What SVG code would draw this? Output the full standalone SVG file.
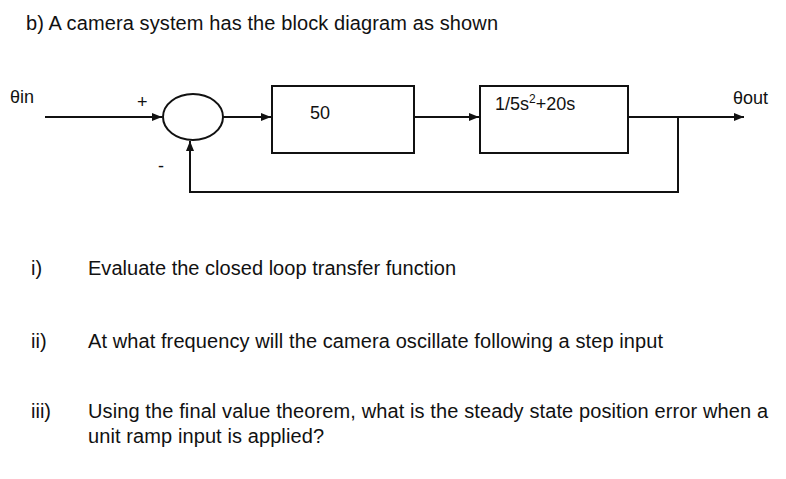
<svg xmlns="http://www.w3.org/2000/svg" width="786" height="479" viewBox="0 0 786 479">
<style>
text{font-family:"Liberation Sans",Arial,sans-serif;fill:#111}
.t{font-size:20px}
.s{font-size:18px}
.l{stroke:#111;stroke-width:2;fill:none}
</style>
<defs><marker id="a" markerWidth="10" markerHeight="8" refX="10" refY="4" orient="auto" markerUnits="userSpaceOnUse"><path d="M0,0L10,4L0,8z" fill="#111"/></marker></defs>
<rect width="786" height="479" fill="#fff"/>
<text class="t" x="26" y="30" textLength="472">b)  A camera system has the block diagram as shown</text>
<g id="sum"><ellipse class="l" cx="193" cy="117" rx="30" ry="23"/><text class="s" x="137" y="108">+</text><text class="s" x="158" y="172">-</text></g>
<g id="g1"><rect class="l" x="272" y="86" width="142" height="67"/><text class="s" x="310" y="119">50</text></g>
<g id="g2"><rect class="l" x="480" y="86" width="148" height="67"/><text class="s" x="495" y="110">1/5s<tspan dy="-7" font-size="12">2</tspan><tspan dy="7">+20s</tspan></text></g>
<text class="s" x="10" y="103">θin</text>
<text class="s" x="733" y="104">θout</text>
<g id="connectors">
<path class="l" d="M45,117H162" marker-end="url(#a)"/>
<path class="l" d="M223,117H271" marker-end="url(#a)"/>
<path class="l" d="M414,117H479" marker-end="url(#a)"/>
<path class="l" d="M628,117H744" marker-end="url(#a)"/>
<path class="l" d="M678,117V192H190V141" marker-end="url(#a)"/>
</g>
<text class="t" x="31" y="275">i)</text>
<text class="t" x="88" y="275" textLength="368">Evaluate the closed loop transfer function</text>
<text class="t" x="31" y="348">ii)</text>
<text class="t" x="88" y="348" textLength="575">At what frequency will the camera oscillate following a step input</text>
<text class="t" x="31" y="418">iii)</text>
<text class="t" x="88" y="418" textLength="680">Using the final value theorem, what is the steady state position error when a</text>
<text class="t" x="88" y="443" textLength="236">unit ramp input is applied?</text>
</svg>
